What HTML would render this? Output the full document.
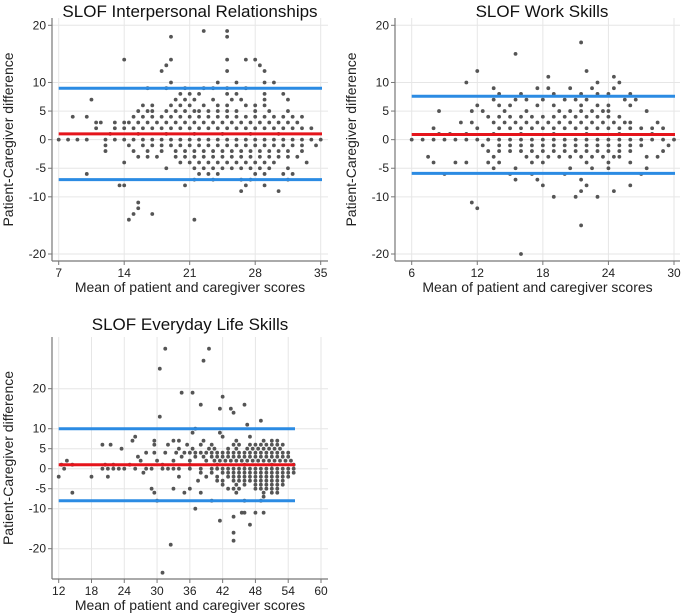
<!DOCTYPE html>
<html><head><meta charset="utf-8">
<style>
body{margin:0;background:#fff;}
svg{display:block;font-family:"Liberation Sans",Arial,sans-serif;}
</style></head>
<body>
<svg id="chart" width="685" height="615" viewBox="0 0 685 615"></svg>
<script>
// ---------- Panel 1: Interpersonal Relationships ----------
const p1XTicks = [7,14,21,28,35];
const p1YTicks = [20,10,5,0,-5,-10,-20];
const p1Limits = [9, 1, -7]; // upper LoA, mean, lower LoA
const p1Rows = [
 [19,[22.5,25]],[18,[19,25]],[14,[14,19,25,27,28]],[13,[18.5,28.5]],[12,[18,25,29]],
 [10,[19,24,26,29,30]],[9,[16.5,18.5,20.5,22.5,23.5,25,27]],[8,[20,21,22,25,26,29,31]],
 [7,[10.5,19.5,20.5,21.5,23.5,25.5,26.5,29,31.5]],
 [6,[16,17,19,20,21,22.5,24,25,27,28,29]],
 [5,[15.5,16.5,17,18.5,19.5,20.5,21.5,22,23,24,25,26,28,29.5,31.5]],
 [4,[8.5,10,15,16,17,18,19,20,21,22,23,24,25,26,27,28,29,30,31,32,33]],
 [3,[11,11.5,13,14,14.5,15.5,16.5,17.5,18.5,19.5,20.5,21.5,22.5,23.5,24.5,25.5,26.5,27.5,28.5,29.5,30.5,31.5,32.5]],
 [2,[11,13,14,15,16,17,18,19,20,21,22,23,24,25,26,27,28,29,30,31,32,33,34]],
 [1,[12.5,15.5,18.5,21.5,24.5,27.5,30.5]],
 [0,[7,8,9,10,12,13,14,15,16,17,18,19,20,21,22,23,24,25,26,27,28,29,30,31,32,33,34,35]],
 [-1,[12,14.5,16,17,18,19,20,21,22,23,24,25,26,27,28,29,30,31,32,33,34.5]],
 [-2,[12,15,16.5,18,19.5,20.5,21.5,22.5,23.5,24.5,25.5,26.5,27.5,28.5,29.5,30.5,31.5,33]],
 [-3,[15.5,16.5,17.5,19.5,20.5,21.5,22.5,23.5,24.5,25.5,26.5,27.5,28.5,29.5,30.5,31.5,32.5]],
 [-4,[14,20,21,22,23,24,25,26,27,28,29,30,33.5]],
 [-5,[18.5,21.5,22.5,23.5,24.5,25.5,26.5,27.5,28.5,29.5,31.5]],
 [-6,[10,22,23,24,28,29,31,32]],[-7,[21.5,23.5,26.5,27.5,31.5]],
 [-8,[13.5,14,20.5,27,29]],[-9,[26.5,30.5]],[-11,[15.5]],[-12,[15.5]],[-13,[15,17]],[-14,[14.5,21.5]]
];
// ---------- Panel 2: Work Skills ----------
const p2XTicks = [6,12,18,24,30];
const p2YTicks = [20,10,5,0,-5,-10,-20];
const p2Limits = [7.6, 0.9, -5.9];
const p2Rows = [
 [17,[21.5]],[15,[15.5]],[12,[12,22]],[11,[18.5,24.5]],[10,[11,23,25]],
 [9,[13.5,17.5,18.5,20.5,22.5,24.5]],[8,[14,16,19,21.5,23,24,26]],
 [7,[13.5,15.5,16.5,18,20,21,22,25.5,26.5]],[6,[12,14,15,17.5,19,21.5,23,24,26]],
 [5,[8.5,11.5,12.5,14.5,16.5,19.5,20.5,21.5,22.5,23.5,24,27.5]],
 [4,[13,14,15,16,17,18,19,20,21,22,23,24,25]],
 [3,[10.5,11.5,13.5,14.5,15.5,16.5,17.5,18.5,19.5,20.5,21.5,22.5,23.5,24.5,25.5,26,28.5]],
 [2,[8,12,14,15,16,17,18,19,20,21,22,23,24,25,26,27,28,29]],
 [1,[8.5,9.5,11,13.5,16,19,22,25,28]],
 [0,[6,7,8,9,10,11,12,13,14,15,16,17,18,19,20,21,22,23,24,25,26,27,28,29,30]],
 [-1,[12.5,14,15,16,17,18,19,20,21,22,23,24,25,26,27,29.5]],
 [-2,[13,14,15,16,17,18,19,20,21,22,23,24,25,26,29]],
 [-3,[7.5,13.5,16.5,17.5,18.5,19.5,20.5,21.5,22.5,23.5,24.5,25,27.5,28.5]],
 [-4,[8,10,11,13,14,17,18,22,24,26]],[-5,[13.5,15.5,20.5,22.5,24,27.5]],
 [-6,[9,15,17,20,27]],[-7,[15.5,17.5,21.5]],[-8,[18,22,26]],[-9,[21.5,24.5]],
 [-10,[19,21,23]],[-11,[11.5]],[-12,[12]],[-15,[21.5]],[-20,[16]]
];
// ---------- Panel 3: Everyday Life Skills ----------
const p3XTicks = [12,18,24,30,36,42,48,54,60];
const p3YTicks = [20,10,5,0,-5,-10,-20];
const p3Limits = [10, 1, -8];
const p3Rows = [
 [30,[31.5,39.5]],[27,[38.5]],[25,[30.5]],[19,[34.5,36.5]],[18,[42]],[16,[38,46]],
 [15,[41.5,43.5]],[14,[44]],[13,[30.5]],[12,[49]],[11,[46.5]],[10,[37]],[9,[36.5,41.5]],
 [8,[26,42,47]],[7,[25.5,29.5,33,34,38.5,44.5,49.5,51,52]],
 [6,[20,21.5,29.5,32,35.5,38,40,44,45,47,48,49,50,51,52,53]],
 [5,[23.5,34,36.5,39.5,40.5,43,44.5,46.5,47.5,48.5,49.5,50.5,51.5,52.5]],
 [4,[28,29.5,31.5,33.5,35,36,37,38,39,40,41,42,43,44,45,46,47,48,49,50,51,52,53,54]],
 [3,[26.5,34.5,37,38.5,40,41,42,43,44,45,46,47,48,49,50,51,52,53,54]],
 [2,[13.5,27,30,33,36,39,40.5,41.5,42.5,43.5,44.5,45.5,46.5,47.5,48.5,49.5,50.5,51.5,52.5,53.5,54.5]],
 [1,[12.5,14.5,20.5,22,25,31,36,41,46,51,55]],
 [0,[13,20,21,22,23,24,26,28,29,31,32,33,34,36,38,40,41,42,43,44,45,46,47,48,49,50,51,52,53,54,55]],
 [-1,[27.5,38,40,42,43,44,45,46,47,48,49,50,51,52,53,54,55]],
 [-2,[12,18,21,34,39,41,43,44,45,46,47,48,49,50,51,52,53,54]],
 [-3,[37.5,41,42,44,45,46,47,48,49,50,51,52,53]],
 [-4,[42,44.5,46,48,49,50,51,52,53]],
 [-5,[29,33,36,43,44,45,48,49,50,51,52]],
 [-6,[14.5,29.5,35,38,44.5,49.5,51,52]],[-7,[49.5]],[-8,[30,40,46,49]],
 [-10,[37]],[-11,[45.5,46,48,49.5]],[-12,[44]],[-13,[41.5]],[-14,[47]],
 [-16,[44]],[-18,[44]],[-19,[32.5]],[-26,[31]]
];

const NS = "http://www.w3.org/2000/svg";
const svg = document.getElementById('chart');
function mk(tag, attrs, parent){
  const e = document.createElementNS(NS, tag);
  for (const k in attrs) e.setAttribute(k, attrs[k]);
  (parent||svg).appendChild(e);
  return e;
}
function panel(cfg){
  const g = mk('g', {});
  
  
  const sx = v => cfg.px0 + (v - cfg.x0) * (cfg.px1 - cfg.px0) / (cfg.x1 - cfg.x0);
  const sy = v => cfg.py0 + (v - cfg.y0) * (cfg.py1 - cfg.py0) / (cfg.y1 - cfg.y0);
  cfg.yTicks.forEach(t => {
    const l = mk('line', {x1:cfg.left, x2:cfg.right, y1:sy(t), y2:sy(t), stroke:'#e6e6e6', 'stroke-width':1}, g);
    
    
  });
  cfg.xTicks.forEach(t => {
    const l = mk('line', {x1:sx(t), x2:sx(t), y1:cfg.top, y2:cfg.bottom, stroke:'#e6e6e6', 'stroke-width':1}, g);
    
    
  });
  const ya = mk('line', {x1:cfg.left, x2:cfg.left, y1:cfg.top, y2:cfg.bottom, stroke:'#777', 'stroke-width':1.2}, g);
  
  
  const xa = mk('line', {x1:cfg.left, x2:cfg.right, y1:cfg.bottom, y2:cfg.bottom, stroke:'#777', 'stroke-width':1.2}, g);
  
  
  cfg.yTicks.forEach(t => {
    mk('line', {x1:cfg.left-4, x2:cfg.left, y1:sy(t), y2:sy(t), stroke:'#777'}, g);
    const tx = mk('text', {x:cfg.left-6, y:sy(t)+4, 'text-anchor':'end', 'font-size':12, fill:'#222'}, g);
    tx.textContent = t;
    
    
  });
  cfg.xTicks.forEach(t => {
    mk('line', {x1:sx(t), x2:sx(t), y1:cfg.bottom, y2:cfg.bottom+4, stroke:'#777'}, g);
    const tx = mk('text', {x:sx(t), y:cfg.bottom+16, 'text-anchor':'middle', 'font-size':12, fill:'#222'}, g);
    tx.textContent = t;
    
    
  });
  cfg.rows.forEach(r => {
    r[1].forEach(xv => {
      const c = mk('circle', {cx:sx(xv), cy:sy(r[0]), r:1.9, fill:'#555'}, g);
      
      
    });
  });
  const names = ['upper-limit-line','mean-difference-line','lower-limit-line'];
  const cols = ['#2b8be3','#e5141b','#2b8be3'];
  [0,2,1].forEach(i => {
    const l = mk('line', {x1:sx(cfg.x0), x2:cfg.lineEnd, y1:sy(cfg.limits[i]), y2:sy(cfg.limits[i]), stroke:cols[i], 'stroke-width':3}, g);
    
    
  });
  const ti = mk('text', {x:cfg.titleX, y:cfg.titleY, 'text-anchor':'middle', 'font-size':17, fill:'#111'}, g);
  ti.textContent = cfg.title;
  
  
  const xt = mk('text', {x:(cfg.left+cfg.right)/2, y:cfg.bottom+31, 'text-anchor':'middle', 'font-size':14, fill:'#222'}, g);
  xt.textContent = 'Mean of patient and caregiver scores';
  
  
  const yc = (cfg.top+cfg.bottom)/2;
  const yt = mk('text', {x:cfg.left-39, y:yc, 'text-anchor':'middle', 'font-size':14, fill:'#222', transform:`rotate(-90 ${cfg.left-39} ${yc})`}, g);
  yt.textContent = 'Patient-Caregiver difference';
  
  
}
panel({name:'panel-interpersonal-relationships', title:'SLOF Interpersonal Relationships', titleX:190, titleY:17,
  x0:7,x1:35,px0:58.7,px1:320.7, y0:20,y1:-20,py0:25.3,py1:254,
  left:52,right:328,top:18,bottom:261, lineEnd:322,
  xTicks:p1XTicks,yTicks:p1YTicks,limits:p1Limits,rows:p1Rows});
panel({name:'panel-work-skills', title:'SLOF Work Skills', titleX:542, titleY:17,
  x0:6,x1:30,px0:411.7,px1:674, y0:20,y1:-20,py0:25.3,py1:254,
  left:395,right:680,top:18,bottom:261, lineEnd:675,
  xTicks:p2XTicks,yTicks:p2YTicks,limits:p2Limits,rows:p2Rows});
panel({name:'panel-everyday-life-skills', title:'SLOF Everyday Life Skills', titleX:190, titleY:330,
  x0:12,x1:60,px0:58.7,px1:321, y0:20,y1:-20,py0:388.7,py1:548.7,
  left:52,right:328,top:337,bottom:579, lineEnd:295,
  xTicks:p3XTicks,yTicks:p3YTicks,limits:p3Limits,rows:p3Rows});
</script>
</body></html>
